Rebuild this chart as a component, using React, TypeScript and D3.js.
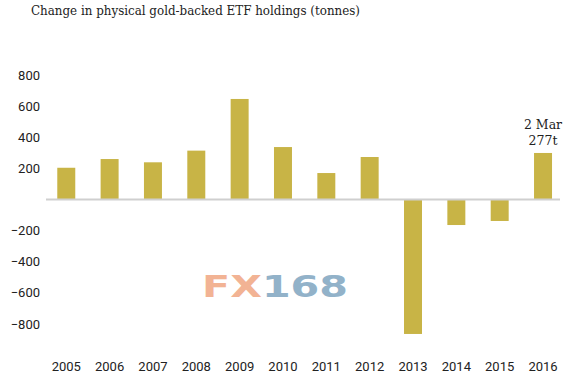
import React from "react";
import * as d3 from "d3";

const years = ["2005","2006","2007","2008","2009","2010","2011","2012","2013","2014","2015","2016"];
const holdings = [204, 260, 239, 314, 646, 337, 170, 273, -864, -164, -138, 299];
const yTicks = [800, 600, 400, 200, -200, -400, -600, -800];
const titleText = "Change in physical gold-backed ETF holdings (tonnes)";
const annotationLines = ["2 Mar", "277t"];

const W = 573, H = 376;

export default function App() {
  const x = d3.scaleBand<string>().domain(years).range([44.6, 564.7]).paddingInner(0.585).paddingOuter(0.2925);
  const y = d3.scaleLinear().domain([-800, 800]).range([324, 75]);
  const barColor = "#c8b446";
  const textColor = "#222";
  const sans = "Roboto, 'Noto Sans', sans-serif";
  const serif = "'DejaVu Serif', 'Liberation Serif', serif";
  const last = years[years.length - 1];
  const lastVal = holdings[holdings.length - 1];
  return (
    <svg width={W} height={H} style={{ position: "absolute", left: 0, top: 0, background: "#fff" }}>
      <text x={31} y={15} fontFamily={serif} fontSize={13.5} fill="#222" textLength={329} lengthAdjust="spacingAndGlyphs">{titleText}</text>
      {yTicks.map((t) => (
        <text key={t} x={40} y={y(t)} dy="0.35em" textAnchor="end" fontFamily={sans} fontSize={13} fill={textColor}>
          {t < 0 ? "\u2212" + Math.abs(t) : String(t)}
        </text>
      ))}
      {/* watermark */}
      <text x={202} y={297} fontFamily="'DejaVu Sans', sans-serif" fontWeight="bold" fontSize={30} textLength={146} lengthAdjust="spacingAndGlyphs">
        <tspan fill="#f2b394">FX</tspan>
        <tspan fill="#92b2c9">168</tspan>
      </text>
      {holdings.map((v, i) => (
        <rect key={years[i]} x={x(years[i])} width={x.bandwidth()} y={Math.min(y(v), y(0))} height={Math.abs(y(v) - y(0))} fill={barColor} />
      ))}
      <line x1={46} x2={560} y1={y(0)} y2={y(0)} stroke="#cfcfcf" strokeWidth={2} />
      {years.map((yr) => (
        <text key={yr} x={(x(yr) as number) + x.bandwidth() / 2} y={371} textAnchor="middle" fontFamily={sans} fontSize={13} fill={textColor}>{yr}</text>
      ))}
      {annotationLines.map((l, i) => (
        <text key={l} x={(x(last) as number) + x.bandwidth() / 2} y={y(lastVal) - 24 + i * 16.5} textAnchor="middle" fontFamily={serif} fontSize={12.5} fill={textColor}>{l}</text>
      ))}
    </svg>
  );
}
